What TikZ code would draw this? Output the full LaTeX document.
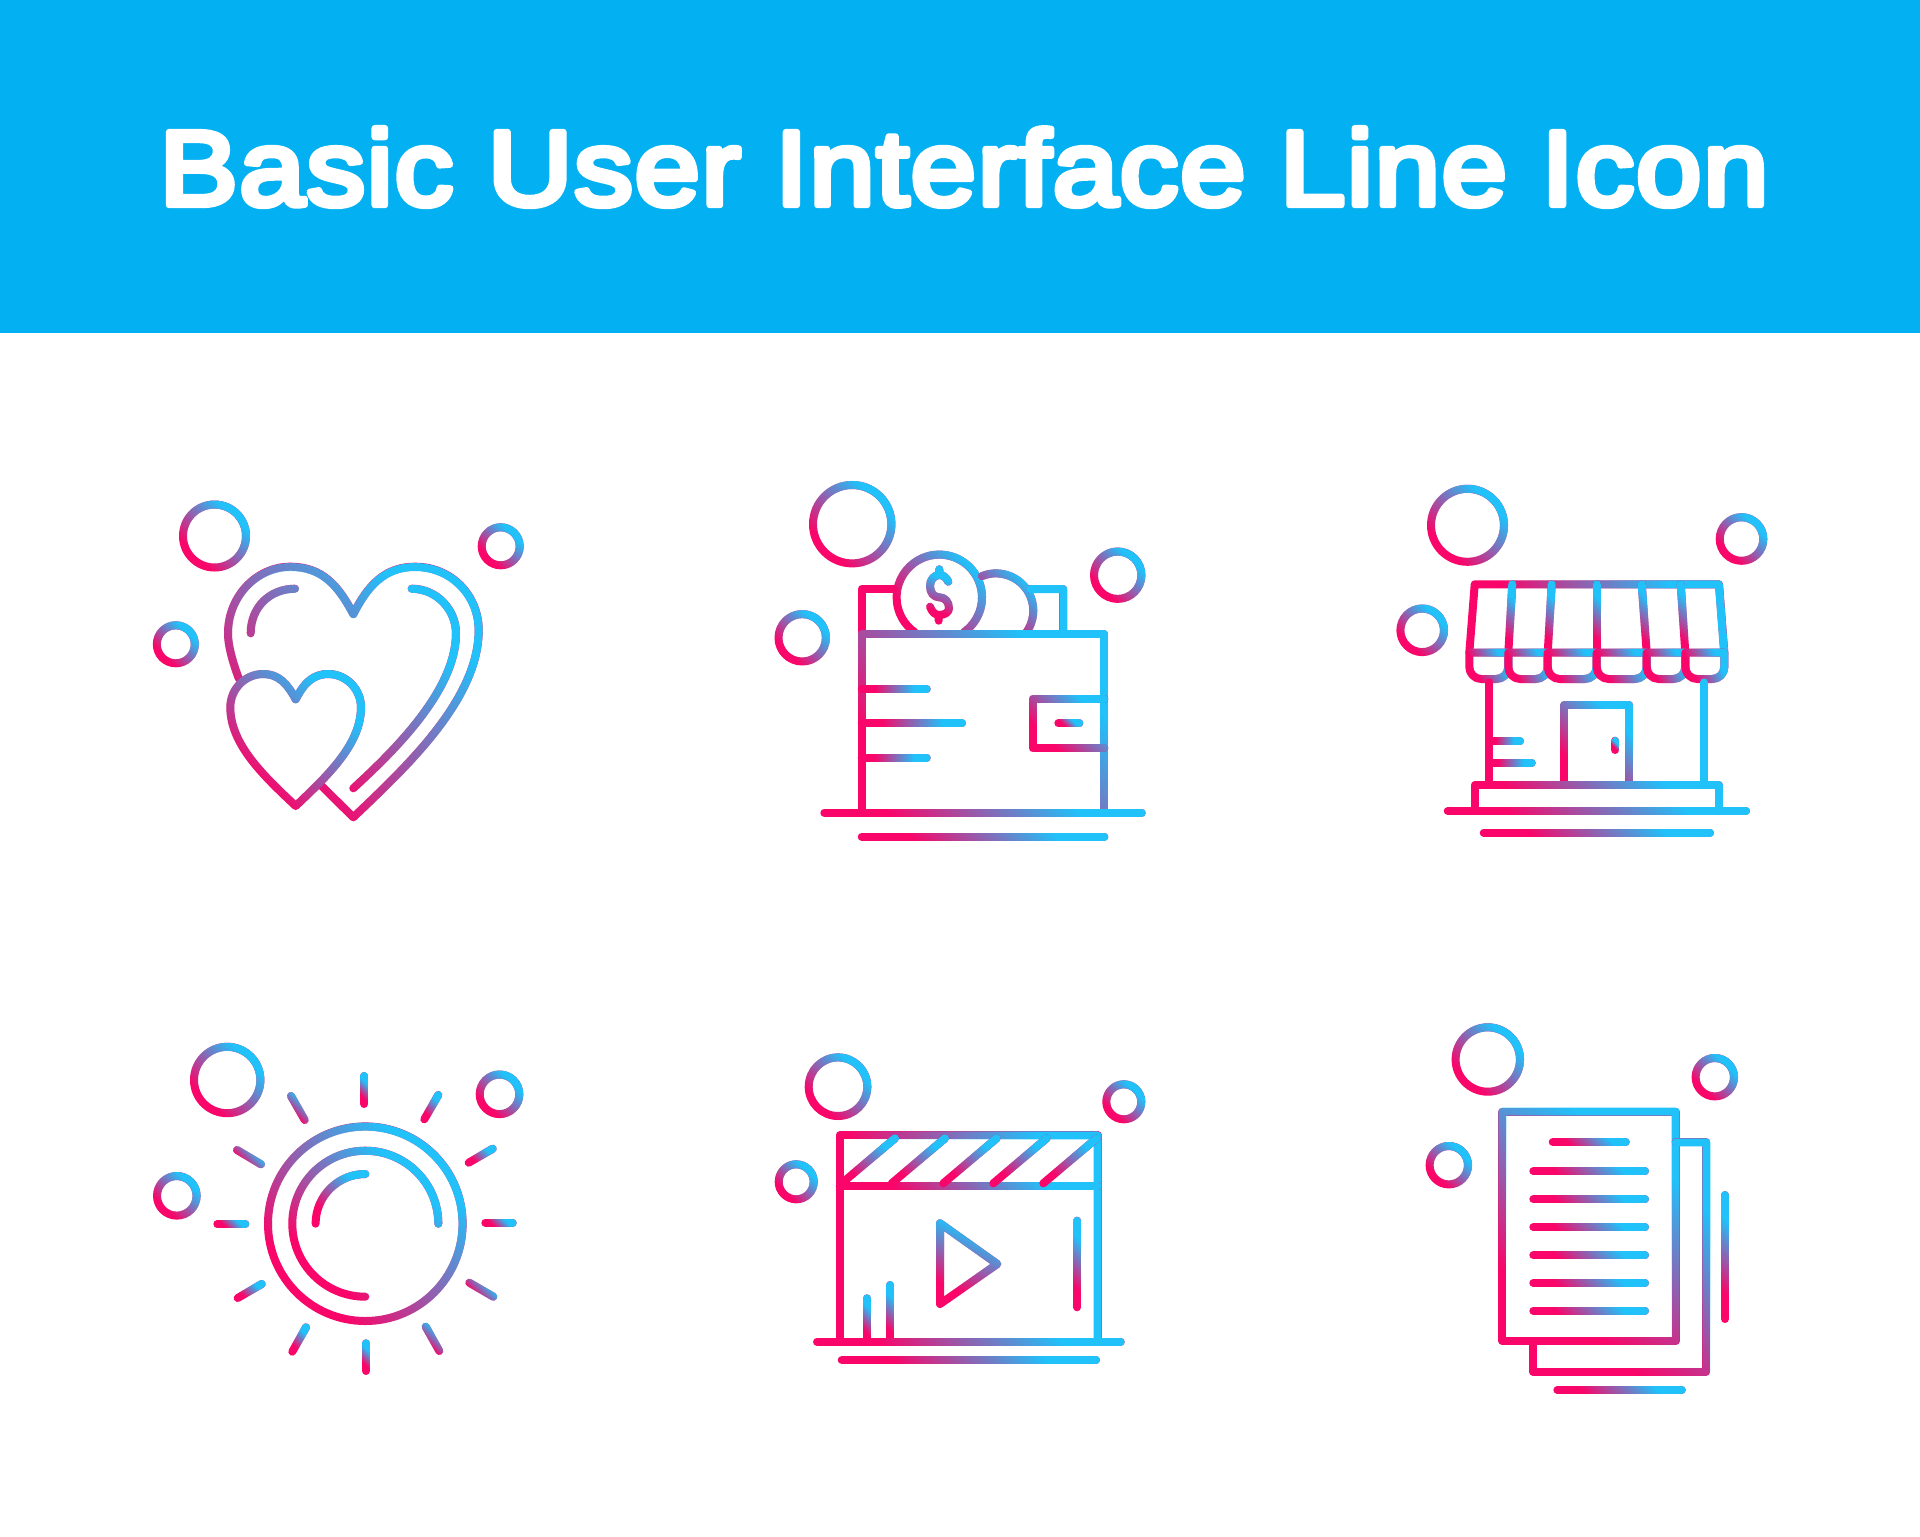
\documentclass[tikz,border=0pt]{standalone}
\usepackage{fontspec}
\setmainfont{Liberation Sans}
\newfontfamily\titlefont[FakeBold=6, FakeStretch=1.11, LetterSpace=1.5]{Liberation Sans}
\definecolor{hotpink}{HTML}{FA0569}
\definecolor{skyline}{HTML}{21C1FA}
\definecolor{banner}{HTML}{03B0F1}
\pgfdeclarehorizontalshading{gradramp}{100bp}{color(0bp)=(black); color(35bp)=(black); color(65bp)=(white); color(100bp)=(white)}
\pgfdeclarefading{gradfade}{\pgfuseshading{gradramp}}
% pink stroke with a faded cyan copy on top, ramp fitted to the path's box
\newcommand{\gpath}[2][45]{%
  \begin{scope}[local bounding box=bb]\path #2;\end{scope}
  \pgfpointanchor{bb}{south west}\pgfgetlastxy{\gxa}{\gya}
  \pgfpointanchor{bb}{north east}\pgfgetlastxy{\gxb}{\gyb}
  \pgfmathsetmacro\gs{max(0.02*((\gxb-\gxa)*cos(#1)+(\gyb-\gya)*sin(#1)),0.05)}
  \pgfmathsetmacro\gx{(\gxa+\gxb)/2}
  \pgfmathsetmacro\gy{(\gya+\gyb)/2}
  \draw[icon,hotpink] #2;
  \begin{pgfscope}
    \pgfsetfading{gradfade}{\pgftransformshift{\pgfpoint{\gx pt}{\gy pt}}\pgftransformrotate{#1}\pgftransformscale{\gs}}
    \draw[icon,skyline] #2;
  \end{pgfscope}
}
\begin{document}
\begin{tikzpicture}[x=.5pt, y=-.5pt,
                    icon/.style={line width=4pt, line cap=round, line join=round}]
  \fill[white] (0,0) rectangle (1920,1536);
  \fill[banner] (0,0) rectangle (1920,333);
  \begin{scope}[line join=round, line cap=round]
    \node[anchor=base, text=white, inner sep=0pt, font=\fontsize{53}{60}\titlefont] (title) at (964,205) {Basic User Interface Line Icon};
  \end{scope}

  % bubbles round the icons
  \foreach \x/\y/\r in {214.5/536/31.5, 500.7/546.3/19, 175.8/644.3/19,
                        852.2/524.2/39.2, 1117.7/575.2/23.7, 802.2/637.8/23.7,
                        1467.5/525.3/36.5, 1741.5/539/21.8, 1422.2/630.3/21.8,
                        227.2/1080/33.2, 499.5/1094.3/19.8, 176.8/1195.8/19.8,
                        838/1086.7/29.3, 1123.8/1101.8/17.5, 796.2/1181.8/17.5,
                        1487.8/1059.5/32.2, 1714.8/1077.2/19.2, 1448.8/1165.2/19.2}{
    \gpath{(\x,\y) circle[radius=\r]}
  }

  % hearts
  \gpath{(238.7,678.3) .. controls (232,660) and (228,645) .. (228,633.3) .. controls (228,596) and (257,566.7) .. (290,566.7) .. controls (322,566.7) and (338,585) .. (353.3,614) .. controls (368,585) and (385,566.7) .. (415,566.7) .. controls (452,566.7) and (478.7,596) .. (478.7,630) .. controls (478.7,700) and (405,768) .. (353.3,817.3) -- (320.7,785)}
  \gpath{(250.7,633.3) .. controls (250.7,607) and (270,588.7) .. (295,588.7) (411.7,588.7) .. controls (437,588.7) and (456,610) .. (456,633.3) .. controls (456,690) and (395,750) .. (353.3,788.3)}
  \gpath{(295.7,699.3) .. controls (287,683) and (278,674) .. (263.3,674) .. controls (245,674) and (230.3,689) .. (230.3,707.3) .. controls (230.3,745) and (265,777) .. (295.7,806) .. controls (326,777) and (361,745) .. (361,707.3) .. controls (361,689) and (346,674) .. (328.3,674) .. controls (313,674) and (304,683) .. (295.7,699.3) -- cycle}

  % wallet
  \gpath{(963.8,632.3) arc[start angle=55, end angle=-235, radius=42.7]}
  \gpath{(982,576.1) arc[start angle=-112, end angle=36, radius=37.3]}
  \gpath[70]{(948.3,581.7) .. controls (946,577) and (943,575) .. (939.3,575) .. controls (934,575) and (930,580) .. (930,586) .. controls (930,593) and (934,597.3) .. (939.3,597.3) .. controls (945,597.3) and (949,602) .. (949,608.3) .. controls (949,612) and (945,615) .. (939.3,615) .. controls (935,615) and (932,612) .. (930,606.7) (939.3,569.3) -- (939.3,575) (938.7,615) -- (938.7,620.7)}
  \gpath[15]{(861.7,634) -- (861.7,589) -- (894,589) (1030,589) -- (1063.3,589) -- (1063.3,634)}
  \gpath{(861.7,812.7) -- (861.7,634) -- (1104.3,634) -- (1104.3,812.7)}
  \foreach \y/\x in {689.3/926.7, 723.3/962, 757.7/926.7}{
    \gpath[0]{(861.7,\y) -- (\x,\y)}
  }
  \gpath{(1104.3,698.7) -- (1032.7,698.7) -- (1032.7,748.3) -- (1104.3,748.3)}
  \gpath{(1058.3,723.3) -- (1079.3,723.3)}
  \gpath{(824.3,812.7) -- (1141.7,812.7)}
  \gpath{(861.7,836.7) -- (1104.3,836.7)}

  % shop
  \gpath[20]{(1469.3,652.7) -- (1474.7,584.3) -- (1719,584.3) -- (1724.3,652.7)}
  \foreach \a/\b in {1512.3/1508.3, 1551.7/1547.7, 1596.7/1596.7, 1641.7/1646.7, 1680.7/1685.3}{
    \gpath{(\a,584.3) -- (\b,652.7)}
  }
  \foreach \a/\b in {1469.3/1508.3, 1508.3/1547.7, 1547.7/1596.7, 1596.7/1646.7, 1646.7/1685.3, 1685.3/1724.3}{
    \gpath[25]{(\a,652.7) -- (\b,652.7) [rounded corners=6pt] -- (\b,679) -- (\a,679) [sharp corners] -- cycle}
  }
  \gpath[0]{(1489.3,682.3) -- (1489.3,785) (1704,682.3) -- (1704,785)}
  \gpath{(1564.3,785) -- (1564.3,705) -- (1629.3,705) -- (1629.3,785)}
  \gpath{(1615.3,740.7) -- (1615.3,750)}
  \gpath[0]{(1489.3,741.3) -- (1520,741.3)}
  \gpath[0]{(1489.3,763) -- (1531.7,763)}
  \gpath{(1474.7,811) -- (1474.7,785) -- (1718.7,785) -- (1718.7,811)}
  \gpath{(1447.7,811) -- (1746,811)}
  \gpath{(1483.7,832.7) -- (1710,832.7)}

  % sun
  \gpath{(365.3,1223.7) circle[radius=97.3]}
  \gpath{(438.3,1223.7) arc[start angle=0, end angle=-270, radius=73]}
  \gpath{(315.6,1223.7) arc[start angle=180, end angle=270, radius=49.7]}
  \foreach \xa/\ya/\xb/\yb in {364.3/1076/364.3/1104, 438.3/1095/424.3/1119.3, 492.7/1148.7/468.7/1162.7,
                               512.7/1222.7/485.3/1222.7, 493.3/1296.7/469.3/1282.7, 439.3/1351/425.7/1326.7,
                               366/1371/366/1343.3, 292.3/1351.7/306/1327.3, 237.7/1298/261.7/1284,
                               217.3/1224/245.3/1224, 237/1150/261/1164.3, 291/1096/304.7/1120}{
    \gpath{(\xa,\ya) -- (\xb,\yb)}
  }

  % clapper
  \gpath[15]{(839.7,1341.7) -- (839.7,1135.3) -- (1097.7,1135.3) -- (1097.7,1341.7)}
  \gpath{(839.7,1186) -- (1097.7,1186)}
  \foreach \x [evaluate=\x as \xt using \x+53.3] in {841.7, 891.7, 943.3, 993.3, 1043.3}{
    \gpath{(\x,1183.3) -- (\xt,1138.3)}
  }
  \gpath[65]{(940,1223.3) -- (997.3,1264) -- (940,1304) -- cycle}
  \gpath{(1077.3,1220.7) -- (1077.3,1307.3)}
  \gpath{(867,1298.3) -- (867,1341.7)}
  \gpath{(890,1285) -- (890,1341.7)}
  \gpath{(817,1341.7) -- (1120.7,1341.7)}
  \gpath{(841.7,1360) -- (1096,1360)}

  % pages
  \gpath[55]{(1502.3,1111.7) rectangle (1675.7,1341)}
  \gpath[55]{(1675.7,1142) -- (1706.3,1142) -- (1706.3,1371.7) -- (1533,1371.7) -- (1533,1341)}
  \gpath{(1552.7,1142) -- (1625.7,1142)}
  \foreach \y in {1171.3, 1199.3, 1227.3, 1255.3, 1283, 1310.7}{
    \gpath{(1533.3,\y) -- (1645,\y)}
  }
  \gpath{(1725,1195) -- (1725,1319)}
  \gpath{(1557.3,1390) -- (1681.7,1390)}
\end{tikzpicture}
\end{document}
